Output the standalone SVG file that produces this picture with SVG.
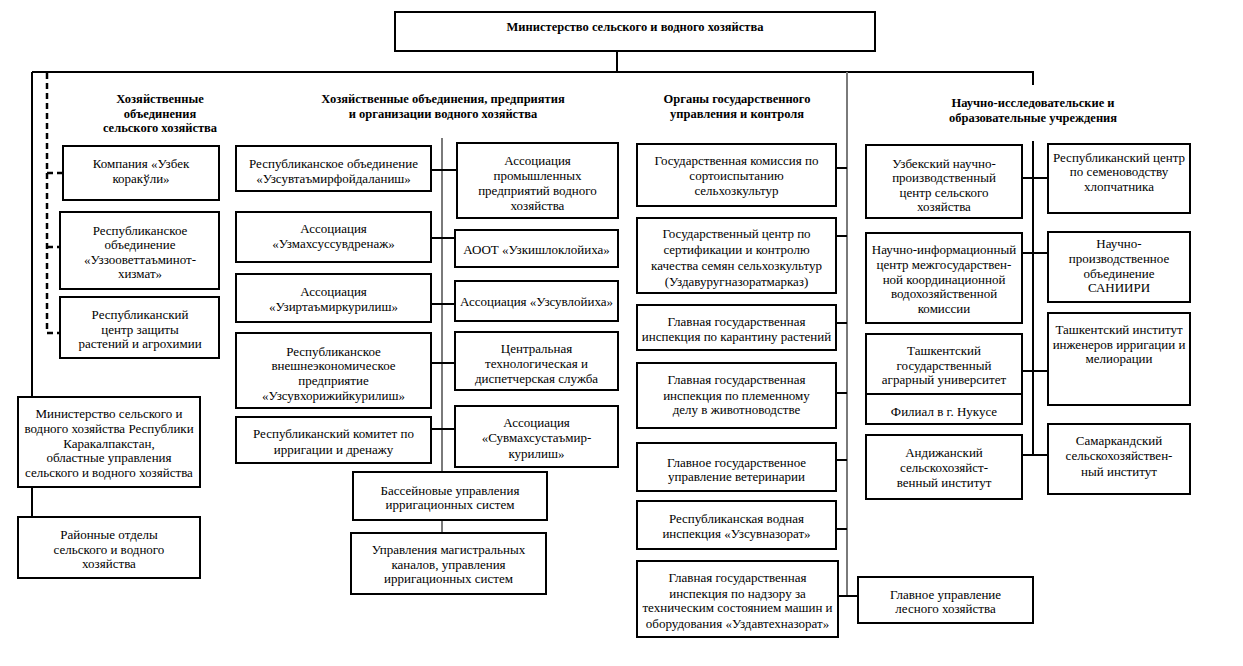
<svg xmlns="http://www.w3.org/2000/svg" width="1243" height="666" viewBox="0 0 1243 666">
<style>
.box{fill:#fff;stroke:#000;stroke-width:2}
.t{font-family:"Liberation Serif","Times New Roman",serif;font-size:13px;text-anchor:middle;fill:#000}
.h{font-family:"Liberation Serif","Times New Roman",serif;font-size:12.5px;font-weight:bold;text-anchor:middle;fill:#000}
.ln{stroke:#000;stroke-width:2;fill:none}
.gr{stroke:#7a7a7a;stroke-width:2;fill:none}
.ds{stroke:#000;stroke-width:2.5;stroke-dasharray:6 4;fill:none}
</style>
<rect width="1243" height="666" fill="#fff"/>
<g id="connectors">
<path class="ln" d="M617,51V72M32,72H1033V85M32,72V397M32,487V517"/>
<path class="ds" d="M47,73V333H60M47,173H63M47,247H60"/>
<path class="gr" d="M442,138V472M442,520V533M847,72V596"/>
<path class="ln" d="M431,170H457M431,238H455M431,304H455M431,363H455M431,429H455"/>
<path class="ln" d="M836,168H847M836,236H847M836,323H847M836,393H847M836,460H847M836,529H847M838,596H858"/>
<path class="ln" d="M1033,141V455M1022,178H1048M1022,253H1048M1022,371H1048M1022,455H1048"/>
</g>
<g id="title"><rect class="box" x="395" y="12" width="480" height="39"/><text class="h" x="635" y="31">Министерство сельского и водного хозяйства</text></g>
<g id="hdr-agri"><text class="h" x="160"><tspan x="160" y="103">Хозяйственные</tspan><tspan x="160" y="118">объединения</tspan><tspan x="160" y="132">сельского хозяйства</tspan></text></g>
<g id="hdr-water"><text class="h" x="443"><tspan x="443" y="103">Хозяйственные объединения, предприятия</tspan><tspan x="443" y="118">и организации водного хозяйства</tspan></text></g>
<g id="hdr-organs"><text class="h" x="737"><tspan x="737" y="103">Органы государственного</tspan><tspan x="737" y="118">управления и контроля</tspan></text></g>
<g id="hdr-research"><text class="h" x="1033"><tspan x="1033" y="107">Научно-исследовательские и</tspan><tspan x="1033" y="122">образовательные учреждения</tspan></text></g>

<g id="n1"><rect class="box" x="63" y="146" width="156" height="54"/><text class="t"><tspan x="141" y="167.5">Компания «Узбек</tspan><tspan x="141" y="182.5">коракўли»</tspan></text></g>
<g id="n2"><rect class="box" x="60" y="212" width="159" height="77"/><text class="t"><tspan x="140" y="234.5">Республиканское</tspan><tspan x="140" y="249">объединение</tspan><tspan x="140" y="263.5">«Уззооветтаъминот-</tspan><tspan x="140" y="278">хизмат»</tspan></text></g>
<g id="n3"><rect class="box" x="60" y="297" width="159" height="61"/><text class="t"><tspan x="140" y="318.5">Республиканский</tspan><tspan x="140" y="333.5">центр защиты</tspan><tspan x="140" y="347.5">растений и агрохимии</tspan></text></g>
<g id="n4"><rect class="box" x="18" y="397" width="182" height="90"/><text class="t"><tspan x="109" y="417.5">Министерство сельского и</tspan><tspan x="109" y="432.5">водного хозяйства Республики</tspan><tspan x="109" y="447.5">Каракалпакстан,</tspan><tspan x="109" y="461.5">областные управления</tspan><tspan x="109" y="476.5">сельского и водного хозяйства</tspan></text></g>
<g id="n5"><rect class="box" x="18" y="517" width="182" height="61"/><text class="t"><tspan x="109" y="538.5">Районные отделы</tspan><tspan x="109" y="553.5">сельского и водного</tspan><tspan x="109" y="567.5">хозяйства</tspan></text></g>

<g id="m1"><rect class="box" x="236" y="146" width="195" height="45"/><text class="t"><tspan x="333.5" y="167.5">Республиканское объединение</tspan><tspan x="333.5" y="182.5">«Узсувтаъмирфойдаланиш»</tspan></text></g>
<g id="m2"><rect class="box" x="236" y="212" width="195" height="50"/><text class="t"><tspan x="333.5" y="232.5">Ассоциация</tspan><tspan x="333.5" y="247.5">«Узмахсуссувдренаж»</tspan></text></g>
<g id="m3"><rect class="box" x="236" y="274" width="195" height="48"/><text class="t"><tspan x="333.5" y="295.5">Ассоциация</tspan><tspan x="333.5" y="310.5">«Узиртаъмиркурилиш»</tspan></text></g>
<g id="m4"><rect class="box" x="236" y="333" width="195" height="75"/><text class="t"><tspan x="333.5" y="355.5">Республиканское</tspan><tspan x="333.5" y="369.5">внешнеэкономическое</tspan><tspan x="333.5" y="384.5">предприятие</tspan><tspan x="333.5" y="399.5">«Узсувхорижийкурилиш»</tspan></text></g>
<g id="m5"><rect class="box" x="236" y="417" width="195" height="46"/><text class="t"><tspan x="333.5" y="437.5">Республиканский комитет по</tspan><tspan x="333.5" y="453.5">ирригации и дренажу</tspan></text></g>

<g id="r1"><rect class="box" x="457" y="143" width="161" height="75"/><text class="t"><tspan x="537.5" y="164.5">Ассоциация</tspan><tspan x="537.5" y="179.5">промышленных</tspan><tspan x="537.5" y="194.5">предприятий водного</tspan><tspan x="537.5" y="209.5">хозяйства</tspan></text></g>
<g id="r2"><rect class="box" x="455" y="230" width="163" height="37"/><text class="t"><tspan x="536.5" y="253.5">АООТ «Узкишлоклойиха»</tspan></text></g>
<g id="r3"><rect class="box" x="455" y="281" width="163" height="40"/><text class="t"><tspan x="536.5" y="305.5">Ассоциация «Узсувлойиха»</tspan></text></g>
<g id="r4"><rect class="box" x="455" y="332" width="163" height="58"/><text class="t"><tspan x="536.5" y="352.5">Центральная</tspan><tspan x="536.5" y="367.5">технологическая и</tspan><tspan x="536.5" y="382.5">диспетчерская служба</tspan></text></g>
<g id="r5"><rect class="box" x="455" y="406" width="163" height="61"/><text class="t"><tspan x="536.5" y="426.5">Ассоциация</tspan><tspan x="536.5" y="441.5">«Сувмахсустаъмир-</tspan><tspan x="536.5" y="457.5">курилиш»</tspan></text></g>
<g id="b1"><rect class="box" x="353" y="472" width="194" height="48"/><text class="t"><tspan x="450" y="494.5">Бассейновые управления</tspan><tspan x="450" y="508.5">ирригационных систем</tspan></text></g>
<g id="b2"><rect class="box" x="351" y="533" width="195" height="61"/><text class="t"><tspan x="448.5" y="553.5">Управления магистральных</tspan><tspan x="448.5" y="568.5">каналов, управления</tspan><tspan x="448.5" y="582.5">ирригационных систем</tspan></text></g>

<g id="o1"><rect class="box" x="637" y="144" width="199" height="62"/><text class="t"><tspan x="736.5" y="164.5">Государственная комиссия по</tspan><tspan x="736.5" y="179.5">сортоиспытанию</tspan><tspan x="736.5" y="194.5">сельхозкультур</tspan></text></g>
<g id="o2"><rect class="box" x="637" y="218" width="199" height="75"/><text class="t"><tspan x="736.5" y="237.5">Государственный центр по</tspan><tspan x="736.5" y="253.5">сертификации и контролю</tspan><tspan x="736.5" y="269.5">качества семян сельхозкультур</tspan><tspan x="736.5" y="285.5">(Уздавуругназоратмарказ)</tspan></text></g>
<g id="o3"><rect class="box" x="637" y="305" width="199" height="45"/><text class="t"><tspan x="736.5" y="325.5">Главная государственная</tspan><tspan x="736.5" y="340.5">инспекция по карантину растений</tspan></text></g>
<g id="o4"><rect class="box" x="637" y="363" width="199" height="65"/><text class="t"><tspan x="736.5" y="383.5">Главная государственная</tspan><tspan x="736.5" y="399.5">инспекция по племенному</tspan><tspan x="736.5" y="413.5">делу в животноводстве</tspan></text></g>
<g id="o5"><rect class="box" x="637" y="443" width="199" height="48"/><text class="t"><tspan x="736.5" y="466.5">Главное государственное</tspan><tspan x="736.5" y="480.5">управление ветеринарии</tspan></text></g>
<g id="o6"><rect class="box" x="637" y="501" width="199" height="48"/><text class="t"><tspan x="736.5" y="522.5">Республиканская водная</tspan><tspan x="736.5" y="537.5">инспекция «Узсувназорат»</tspan></text></g>
<g id="o7"><rect class="box" x="637" y="561" width="201" height="76"/><text class="t"><tspan x="737.5" y="581.5">Главная государственная</tspan><tspan x="737.5" y="597.5">инспекция по надзору за</tspan><tspan x="737.5" y="611.5">техническим состоянием машин и</tspan><tspan x="737.5" y="627.5">оборудования «Уздавтехназорат»</tspan></text></g>
<g id="o8"><rect class="box" x="858" y="577" width="175" height="46"/><text class="t"><tspan x="945.5" y="598.5">Главное управление</tspan><tspan x="945.5" y="612.5">лесного хозяйства</tspan></text></g>

<g id="s1"><rect class="box" x="866" y="145" width="156" height="73"/><text class="t"><tspan x="944" y="167.5">Узбекский научно-</tspan><tspan x="944" y="181.5">производственный</tspan><tspan x="944" y="196.5">центр сельского</tspan><tspan x="944" y="210.5">хозяйства</tspan></text></g>
<g id="s2"><rect class="box" x="866" y="233" width="156" height="90"/><text class="t"><tspan x="944" y="253.5">Научно-информационный</tspan><tspan x="944" y="268.5">центр межгосударствен-</tspan><tspan x="944" y="283.5">ной координационной</tspan><tspan x="944" y="297.5">водохозяйственной</tspan><tspan x="944" y="312.5">комиссии</tspan></text></g>
<g id="s3"><rect class="box" x="866" y="334" width="156" height="90"/><path class="ln" d="M866,394H1022"/><text class="t"><tspan x="944" y="354.5">Ташкентский</tspan><tspan x="944" y="369.5">государственный</tspan><tspan x="944" y="384">аграрный университет</tspan><tspan x="944" y="415.5">Филиал в г. Нукусе</tspan></text></g>
<g id="s4"><rect class="box" x="866" y="435" width="156" height="64"/><text class="t"><tspan x="944" y="456.5">Андижанский</tspan><tspan x="944" y="471.5">сельскохозяйст-</tspan><tspan x="944" y="486.5">венный институт</tspan></text></g>

<g id="t1"><rect class="box" x="1048" y="144" width="142" height="69"/><text class="t"><tspan x="1119" y="161.5">Республиканский центр</tspan><tspan x="1119" y="175.5">по семеноводству</tspan><tspan x="1119" y="190.5">хлопчатника</tspan></text></g>
<g id="t2"><rect class="box" x="1048" y="232" width="142" height="70"/><text class="t"><tspan x="1119" y="247.5">Научно-</tspan><tspan x="1119" y="262.5">производственное</tspan><tspan x="1119" y="277.5">объединение</tspan><tspan x="1119" y="291.5">САНИИРИ</tspan></text></g>
<g id="t3"><rect class="box" x="1048" y="313" width="142" height="92"/><text class="t"><tspan x="1119" y="333.5">Ташкентский институт</tspan><tspan x="1119" y="348.5">инженеров ирригации и</tspan><tspan x="1119" y="362.5">мелиорации</tspan></text></g>
<g id="t4"><rect class="box" x="1048" y="424" width="142" height="70"/><text class="t"><tspan x="1119" y="444.5">Самаркандский</tspan><tspan x="1119" y="459.5">сельскохозяйствен-</tspan><tspan x="1119" y="475.5">ный институт</tspan></text></g>
</svg>
